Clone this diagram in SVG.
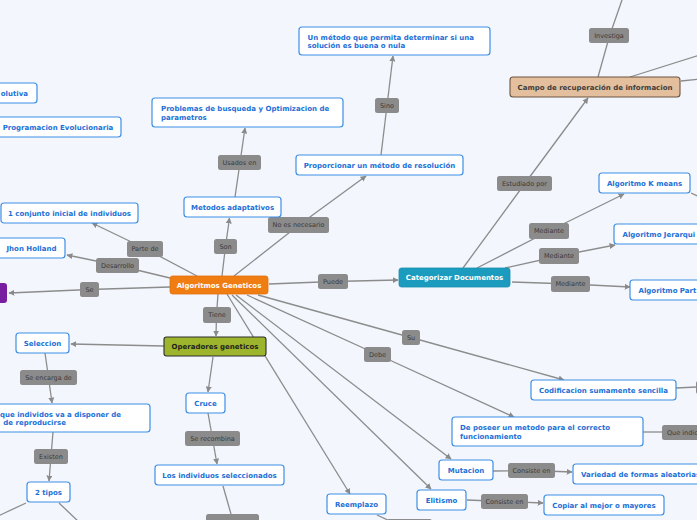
<svg xmlns="http://www.w3.org/2000/svg" width="697" height="520" viewBox="0 0 697 520">
<defs>
<marker id="ah" viewBox="0 0 10 10" refX="9" refY="5" markerWidth="6" markerHeight="6" markerUnits="userSpaceOnUse" orient="auto">
<path d="M0,0 L10,5 L0,10 z" fill="#8a8a8a"/>
</marker>
<style>
.c{fill:none;stroke:#8c8c8c;stroke-width:1.3}
.a{marker-end:url(#ah)}
.n{fill:#ffffff;stroke:#3d8fe6;stroke-width:1.2}
.t{font-family:"DejaVu Sans",Verdana,sans-serif;font-weight:bold;font-size:7px;fill:#1c6fd6}
.m{text-anchor:middle}
.l{fill:#8b8b8b}
.lt{font-family:"DejaVu Sans",Verdana,sans-serif;font-size:6.5px;fill:#3a3a3a;text-anchor:middle}
</style>
</defs>
<rect x="0" y="0" width="697" height="520" fill="#f3f6fd"/>
<g id="connectors">
<path class="c a" d="M222,276 L225.5,246.5 L229.5,218"/>
<path class="c a" d="M235,197 L240,162.5 L245,128"/>
<path class="c a" d="M234,276 L299,225 L366,176"/>
<path class="c a" d="M381,155 L387,105.5 L393,56"/>
<path class="c a" d="M197,276 L145,248.5 L92,223"/>
<path class="c a" d="M170,278 L118,265.5 L67,255"/>
<path class="c a" d="M170,287 L89.5,289.5 L9,293"/>
<path class="c a" d="M218,294 L216.5,315 L216,336"/>
<path class="c a" d="M269,284 L333,281.5 L398,280"/>
<path class="c a" d="M463,268 L524.5,184 L588,98"/>
<path class="c" d="M598,77 L609.5,36 L622,0"/>
<path class="c" d="M630,77 L700,55"/>
<path class="c" d="M681,81 L700,79"/>
<path class="c a" d="M477,268 L549,231 L624,194"/>
<path class="c a" d="M505,268 L559,256 L615,245"/>
<path class="c a" d="M512,282 L570.5,284 L630,287"/>
<path class="c" d="M691,193 L700,197"/>
<path class="c a" d="M258,295 L411,337.5 L564,380"/>
<path class="c a" d="M247,295 L377.5,354.5 L514,417"/>
<path class="c a" d="M236,295 L451,459"/>
<path class="c a" d="M232,295 L431,489"/>
<path class="c a" d="M227,294 L350,494"/>
<path class="c a" d="M164,346 L71,344"/>
<path class="c a" d="M213,357 L208,392"/>
<path class="c a" d="M45,353 L48.5,377.5 L52,403"/>
<path class="c a" d="M53,432 L51,456.5 L49,481"/>
<path class="c" d="M26,503 L-4,517"/>
<path class="c" d="M59,503 L80,523"/>
<path class="c a" d="M208,413 L212.5,438.5 L217,464"/>
<path class="c" d="M223,486 L231,514"/>
<path class="c a" d="M493,471 L531.5,470.5 L572,472"/>
<path class="c a" d="M467,500 L504.5,501.5 L543,503"/>
<path class="c" d="M676,388 L697,387"/>
<path class="c" d="M643,432 L662,432"/>
<path class="c" d="M377,515 L392,522"/>
</g>
<g id="labels">
<g id="l-usados"><rect class="l" x="218" y="155" width="43" height="15" rx="2.5"/><text class="lt" x="239.5" y="164.7">Usados en</text></g>
<g id="l-sino"><rect class="l" x="375" y="98" width="24" height="15" rx="2.5"/><text class="lt" x="387" y="107.7">Sino</text></g>
<g id="l-investiga"><rect class="l" x="589" y="28" width="40" height="15" rx="2.5"/><text class="lt" x="609" y="37.7">Investiga</text></g>
<g id="l-estudiado"><rect class="l" x="497" y="176" width="55" height="15" rx="2.5"/><text class="lt" x="524.5" y="185.7">Estudiado por</text></g>
<g id="l-son"><rect class="l" x="214" y="239" width="23" height="15" rx="2.5"/><text class="lt" x="225.5" y="248.7">Son</text></g>
<g id="l-noes"><rect class="l" x="268" y="217" width="61" height="16" rx="2.5"/><text class="lt" x="298.5" y="227.2">No es necesario</text></g>
<g id="l-parte"><rect class="l" x="127" y="241" width="36" height="16" rx="2.5"/><text class="lt" x="145" y="251.2">Parte de</text></g>
<g id="l-desarrollo"><rect class="l" x="96" y="258" width="43" height="15" rx="2.5"/><text class="lt" x="117.5" y="267.7">Desarrollo</text></g>
<g id="l-se"><rect class="l" x="80" y="282" width="19" height="15" rx="2.5"/><text class="lt" x="89.5" y="291.7">Se</text></g>
<g id="l-tiene"><rect class="l" x="203" y="307" width="28" height="16" rx="2.5"/><text class="lt" x="217" y="317.2">Tiene</text></g>
<g id="l-puede"><rect class="l" x="318" y="274" width="30" height="15" rx="2.5"/><text class="lt" x="333" y="283.7">Puede</text></g>
<g id="l-med1"><rect class="l" x="529" y="223" width="40" height="16" rx="2.5"/><text class="lt" x="549" y="233.2">Mediante</text></g>
<g id="l-med2"><rect class="l" x="539" y="248" width="40" height="16" rx="2.5"/><text class="lt" x="559" y="258.2">Mediante</text></g>
<g id="l-med3"><rect class="l" x="551" y="276" width="39" height="16" rx="2.5"/><text class="lt" x="570.5" y="286.2">Mediante</text></g>
<g id="l-su"><rect class="l" x="402" y="330" width="18" height="15" rx="2.5"/><text class="lt" x="411" y="339.7">Su</text></g>
<g id="l-debe"><rect class="l" x="364" y="347" width="27" height="15" rx="2.5"/><text class="lt" x="377.5" y="356.7">Debe</text></g>
<g id="l-encarga"><rect class="l" x="20" y="370" width="57" height="15" rx="2.5"/><text class="lt" x="48.5" y="379.7">Se encarga de</text></g>
<g id="l-existen"><rect class="l" x="34" y="449" width="34" height="15" rx="2.5"/><text class="lt" x="51" y="458.7">Existen</text></g>
<g id="l-recombina"><rect class="l" x="185" y="431" width="55" height="15" rx="2.5"/><text class="lt" x="212.5" y="440.7">Se recombina</text></g>
<g id="l-consiste1"><rect class="l" x="508" y="463" width="47" height="15" rx="2.5"/><text class="lt" x="531.5" y="472.7">Consiste en</text></g>
<g id="l-consiste2"><rect class="l" x="481" y="494" width="47" height="15" rx="2.5"/><text class="lt" x="504.5" y="503.7">Consiste en</text></g>
<g id="l-queindic"><rect class="l" x="662" y="425" width="50" height="15" rx="2.5"/><text class="lt" x="667" y="434.7" style="text-anchor:start">Que indic</text></g>
<g id="l-bottom1"><rect class="l" x="206" y="514" width="53" height="15" rx="2.5"/></g>
<g id="l-bottom2"><rect class="l" x="387" y="519" width="45" height="15" rx="2.5"/></g>
<g id="l-right"><rect class="l" x="696" y="381" width="30" height="13" rx="2.5"/></g>
</g>
<g id="n-olutiva"><rect class="n" x="-60" y="83" width="97" height="20" rx="3"/><text class="t" x="28" y="95.5" style="text-anchor:end">olutiva</text></g>
<g id="n-progevol"><rect class="n" x="-6" y="117" width="127" height="20" rx="3"/><text class="t m" x="58" y="129.5">Programacion Evolucionaria</text></g>
<g id="n-problemas"><rect class="n" x="152" y="98" width="191" height="29" rx="3"/><text class="t" x="161" y="110.8">Problemas de busqueda y Optimizacion de</text><text class="t" x="161" y="119.8">parametros</text></g>
<g id="n-unmetodo"><rect class="n" x="299" y="27" width="191" height="28" rx="3"/><text class="t" x="307.5" y="39.8">Un método que permita determinar si una</text><text class="t" x="307.5" y="48.2">solución es buena o nula</text></g>
<g id="n-proporcionar"><rect class="n" x="296" y="155" width="167" height="20" rx="3"/><text class="t m" x="379.5" y="167.5">Proporcionar un método de resolución</text></g>
<g id="n-metodos"><rect class="n" x="184" y="197" width="97" height="20" rx="3"/><text class="t m" x="232.5" y="209.5">Metodos adaptativos</text></g>
<g id="n-conjunto"><rect class="n" x="1" y="203" width="137" height="20" rx="3"/><text class="t m" x="69.5" y="215.5">1 conjunto inicial de individuos</text></g>
<g id="n-holland"><rect class="n" x="-3" y="238" width="68" height="20" rx="3"/><text class="t m" x="31.5" y="250.5">Jhon Holland</text></g>
<g id="n-purple"><rect x="-20" y="283" width="27" height="20" rx="3" fill="#7a1ea1"/></g>
<g id="n-ag"><rect x="170" y="276" width="98" height="18" rx="2.5" fill="#ef7d12" stroke="#e27010" stroke-width="0.8"/><text class="t m" x="219" y="287.5" style="fill:#ffffff">Algoritmos Geneticos</text></g>
<g id="n-categorizar"><rect x="399" y="268" width="111" height="19" rx="2.5" fill="#1b9cbe" stroke="#1690b0" stroke-width="0.8"/><text class="t m" x="454.5" y="280" style="fill:#ffffff">Categorizar Documentos</text></g>
<g id="n-campo"><rect x="510" y="77" width="170" height="20" rx="3" fill="#e3bf9e" stroke="#6e5541" stroke-width="1.1"/><text class="t m" x="595" y="89.5" style="fill:#3d3d3d">Campo de recuperación de informacion</text></g>
<g id="n-kmeans"><rect class="n" x="599" y="173" width="91" height="20" rx="3"/><text class="t m" x="644.5" y="185.5">Algoritmo K means</text></g>
<g id="n-jerarq"><rect class="n" x="614" y="224" width="100" height="20" rx="3"/><text class="t" x="622.5" y="236.5">Algoritmo Jerarqui</text></g>
<g id="n-part"><rect class="n" x="630" y="280" width="90" height="20" rx="3"/><text class="t" x="638.5" y="292.5">Algoritmo Part</text></g>
<g id="n-operadores"><rect x="164" y="337" width="102" height="19" rx="2.5" fill="#9db52d" stroke="#2d2d2d" stroke-width="1.1"/><text class="t m" x="215" y="349" style="fill:#1e1e1e">Operadores geneticos</text></g>
<g id="n-seleccion"><rect class="n" x="16" y="333" width="53" height="20" rx="3"/><text class="t m" x="42.5" y="345.5">Seleccion</text></g>
<g id="n-queind"><rect class="n" x="-60" y="404" width="210" height="28" rx="3"/><text class="t" x="0" y="416.8">que individos va a disponer de</text><text class="t" x="3.3" y="424.8">de reproducirse</text></g>
<g id="n-2tipos"><rect class="n" x="27" y="482" width="43" height="20" rx="3"/><text class="t m" x="48.5" y="494.5">2 tipos</text></g>
<g id="n-cruce"><rect class="n" x="186" y="393" width="39" height="20" rx="3"/><text class="t m" x="205.5" y="405.5">Cruce</text></g>
<g id="n-losind"><rect class="n" x="155" y="465" width="129" height="20" rx="3"/><text class="t m" x="219.5" y="477.5">Los individuos seleccionados</text></g>
<g id="n-reemplazo"><rect class="n" x="327" y="494" width="59" height="20" rx="3"/><text class="t m" x="356.5" y="506.5">Reemplazo</text></g>
<g id="n-elitismo"><rect class="n" x="417" y="490" width="49" height="20" rx="3"/><text class="t m" x="441.5" y="502.5">Elitismo</text></g>
<g id="n-mutacion"><rect class="n" x="439" y="460" width="54" height="20" rx="3"/><text class="t m" x="466" y="472.5">Mutacion</text></g>
<g id="n-variedad"><rect class="n" x="573" y="464" width="140" height="20" rx="3"/><text class="t" x="581" y="476.5">Variedad de formas aleatorias</text></g>
<g id="n-copiar"><rect class="n" x="544" y="495" width="120" height="20" rx="3"/><text class="t m" x="604" y="507.5">Copiar al mejor o mayores</text></g>
<g id="n-codif"><rect class="n" x="531" y="380" width="145" height="20" rx="3"/><text class="t m" x="603.5" y="392.5">Codificacion sumamente sencilla</text></g>
<g id="n-deposeer"><rect class="n" x="452" y="417" width="191" height="29" rx="3"/><text class="t" x="460" y="429.8">De poseer un metodo para el correcto</text><text class="t" x="460" y="439.2">funcionamiento</text></g>
</svg>
